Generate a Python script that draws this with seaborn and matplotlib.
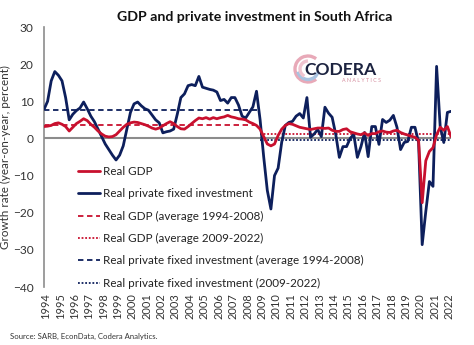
import numpy as np
import pandas as pd
import matplotlib
matplotlib.use("Agg")
import matplotlib.pyplot as plt
from matplotlib.patches import Arc
import seaborn as sns

# ---------------- data (quarterly, 1994Q1 - 2022Q2) ----------------
years = list(range(1994, 2023))
real_gdp = [
    3.2, 3.3, 3.5, 4.0, 4.2, 3.8, 3.2, 2.0, 3.0, 4.0, 4.6, 5.3, 4.8, 3.8, 3.0, 2.0,
    1.2, 0.6, 0.4, 0.5, 1.0, 2.0, 3.0, 3.8, 4.2, 4.4, 4.3, 4.0, 3.7, 3.3, 2.8, 2.5,
    2.8, 3.4, 4.0, 4.5, 4.0, 3.2, 2.6, 2.5, 3.2, 4.0, 4.8, 5.5, 5.3, 5.6, 5.2, 5.6,
    5.3, 5.6, 5.8, 6.2, 5.8, 5.6, 5.3, 5.2, 5.0, 4.4, 4.0, 3.5, 2.5, 0.5, -1.5, -2.0,
    -1.5, 0.8, 2.5, 3.5, 4.0, 3.8, 3.4, 3.0, 2.8, 2.6, 2.4, 2.6, 2.8, 2.8, 2.7, 2.8,
    2.2, 1.9, 1.9, 2.4, 2.6, 1.8, 1.5, 1.2, 1.0, 1.5, 0.8, 1.3, 1.3, 1.8, 2.0, 1.7,
    1.6, 2.0, 2.2, 1.6, 1.2, 0.9, 0.6, 0.3, -0.5, -17.3, -6.0, -3.5, -2.5, 1.0, 3.0, 2.2,
    3.2, 0.5,
]
private_investment = [
    7.8, 10.0, 15.5, 18.0, 17.0, 15.5, 11.0, 5.0, 6.5, 7.5, 8.2, 9.8, 8.0, 6.0, 4.5, 2.5,
    0.5, -1.5, -3.0, -4.5, -5.8, -4.5, -2.0, 2.5, 7.0, 9.3, 9.8, 8.8, 8.0, 7.6, 6.3, 5.0,
    4.2, 1.5, 1.8, 2.0, 2.5, 6.5, 11.0, 12.0, 14.2, 14.5, 14.2, 16.7, 13.8, 13.5, 13.2, 13.0,
    12.5, 10.2, 10.5, 9.5, 11.0, 11.0, 9.0, 6.0, 5.5, 7.0, 8.5, 12.7, 5.0, -5.0, -14.0, -19.0,
    -10.0, -8.0, -1.0, 3.5, 4.3, 4.6, 6.0, 6.7, 5.5, 11.0, 0.3, 1.2, 2.4, 0.5, 8.4, 6.8,
    5.7, 1.1, -5.1, -2.2, -2.2, 0.0, 1.1, -5.1, -2.2, 1.6, -4.9, 3.2, 3.2, -1.6, 5.1, 4.3,
    4.9, 6.2, 3.0, -3.0, -1.1, -0.8, 3.0, 3.0, -1.1, -28.6, -19.7, -11.6, -12.9, 19.4, 3.2, -1.1,
    7.0, 7.3,
]
gdp_avg_1994_2008 = 3.6
gdp_avg_2009_2022 = 1.3
inv_avg_1994_2008 = 7.7
inv_avg_2009_2022 = -0.5
period1_quarters = (0, 59)    # 1994Q1 - 2008Q4
period2_quarters = (60, 113)  # 2009Q1 - 2022Q2

labels = [
    "Real GDP",
    "Real private fixed investment",
    "Real GDP (average 1994-2008)",
    "Real GDP (average 2009-2022)",
    "Real private fixed investment (average 1994-2008)",
    "Real private fixed investment (2009-2022)",
]

RED = "#C8102E"
NAVY = "#0D1F5C"

sns.set_theme(style="white")
plt.rcParams["font.family"] = ["Lato", "DejaVu Sans"]

q = np.arange(len(real_gdp))
df = pd.DataFrame({"q": q, "gdp": real_gdp, "inv": private_investment})

fig = plt.figure(figsize=(4.74, 3.45), dpi=100)
ax = fig.add_axes([44 / 474, 1 - 287 / 345, (451 - 44) / 474, (287 - 27) / 345])

ax.axhline(0, color="#8c8c8c", lw=1.5, zorder=1)

sns.lineplot(data=df, x="q", y="gdp", ax=ax, color=RED, lw=2.0, label=labels[0], zorder=4)
sns.lineplot(data=df, x="q", y="inv", ax=ax, color=NAVY, lw=2.0, label=labels[1], zorder=3)

def avg_line(rng, val, color, ls, lab):
    d = pd.DataFrame({"q": list(rng), "v": [val, val]})
    sns.lineplot(data=d, x="q", y="v", ax=ax, color=color, lw=1.3, linestyle=ls, label=lab, zorder=2)

avg_line(period1_quarters, gdp_avg_1994_2008, RED, (0, (3, 2)), labels[2])
avg_line(period2_quarters, gdp_avg_2009_2022, RED, (0, (1, 1)), labels[3])
avg_line(period1_quarters, inv_avg_1994_2008, NAVY, (0, (3, 2)), labels[4])
avg_line(period2_quarters, inv_avg_2009_2022, NAVY, (0, (1, 1)), labels[5])

ax.set_xlim(0, len(real_gdp) - 1)
ax.set_ylim(-40, 30)
ax.set_yticks(range(-40, 31, 10))
ax.set_xticks([(y - 1994) * 4 + 0.5 for y in years])
ax.set_xticklabels([str(y) for y in years], rotation=90, fontsize=7.9, color="#333333")
ax.tick_params(axis="y", labelsize=8.6, colors="#333333", length=0, pad=7.5)
ax.tick_params(axis="x", length=0, pad=4.5)
ax.set_xlabel("")
ax.set_ylabel("Growth rate (year-on-year, percent)", fontsize=8.4, color="#333333")
ax.yaxis.set_label_coords((11 - 44) / 407, 0.5)
for s in ["top", "right", "bottom"]:
    ax.spines[s].set_visible(False)
ax.spines["left"].set_color("#8c8c8c")
ax.spines["left"].set_linewidth(1.2)

leg = ax.legend(loc="upper left", bbox_to_anchor=(78 / 474, 1 - 166 / 345),
                bbox_transform=fig.transFigure, frameon=False, fontsize=8.4,
                handlelength=1.9, handletextpad=0.25, labelspacing=0.97,
                borderaxespad=0, borderpad=0)
for t in leg.get_texts():
    t.set_color("#222222")

fig.text(255 / 474, 1 - 17 / 345, "GDP and private investment in South Africa",
         ha="center", va="center", fontsize=10.2, fontweight="bold", color="#111111")
fig.text(10 / 474, 1 - 336 / 345, "Source: SARB, EconData, Codera Analytics.",
         ha="left", va="center", fontsize=5.6, color="#333333")

# logo
lx, ly = 308 / 474, 1 - 69 / 345
for i, (c, a1, a2) in enumerate([("#e8a9b8", 60, 300), ("#a9c3e0", 200, 340), ("#f0c4cf", 90, 250)]):
    arc = Arc((lx, ly), width=(26 - 5 * i) / 474, height=(26 - 5 * i) / 345,
              theta1=a1, theta2=a2, transform=fig.transFigure, color=c, lw=2.4)
    fig.add_artist(arc)
fig.text(304 / 474, 1 - 70 / 345, "CODERA", ha="left", va="center", fontsize=12.6,
         fontweight="bold", color="#1c2340")
fig.text(381 / 474, 1 - 81 / 345, "A N A L Y T I C S", ha="right", va="center",
         fontsize=3.8, color="#d48a9c")

fig.savefig("out.png", dpi=100)
